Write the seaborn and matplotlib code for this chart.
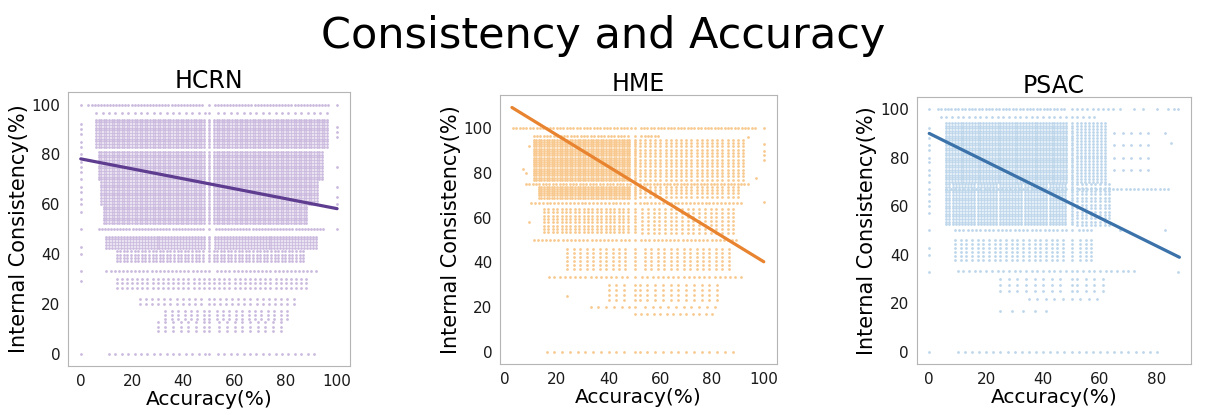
import numpy as np
import pandas as pd
import seaborn as sns
import matplotlib
matplotlib.use("Agg")
import matplotlib.pyplot as plt

# ---- data ----
models = ["HCRN", "HME", "PSAC"]

# point blocks: consistency from/to/step, accuracy from/to/step (rows have from == to)
hcrn_y_from = [100, 96.7, 94, 81, 69, 59, 50, 47, 41, 33.3, 30, 22, 17, 12.5, 0]
hcrn_y_to = [100, 96.7, 82, 70, 60, 52, 50, 42, 37, 33.3, 25, 20, 14, 9, 0]
hcrn_y_step = [1, 1, 1.1, 1.1, 1.1, 1.1, 1, 1.15, 1.3, 1, 1.8, 2, 1.5, 1.7, 1]
hcrn_x_from = [3, 6, 6, 7, 8, 9, 7, 10, 14, 10, 14, 23, 33, 30, 11]
hcrn_x_to = [97, 96, 96, 94, 92, 88, 95, 92, 88, 92, 88, 84, 82, 80, 91]
hcrn_x_step = [1.2, 2.5, 1.0, 1.0, 1.0, 1.0, 1.2, 1.15, 1.4, 1.6, 2.0, 2.4, 2.5, 3.0, 2.5]
hcrn_edge_x = [0] * 22 + [100] * 9
hcrn_edge_y = [100, 92, 90, 88, 85, 83, 80, 77, 75, 73, 70, 67, 65, 62, 60, 57, 50, 43, 40, 33, 29, 0,
               100, 91, 89, 87, 75, 67, 63, 60, 50]
hcrn_fit_x = [0, 100]
hcrn_fit_y = [78.2, 58.2]

hme_y_from = [100, 96.7, 95, 95, 75, 74, 74, 66.7, 64, 64, 50, 46, 33.3, 30, 20, 16.7, 0]
hme_y_to = [100, 96.7, 77, 77, 75, 69, 69, 66.7, 53, 53, 50, 37, 33.3, 23, 20, 16.7, 0]
hme_y_step = [1, 1, 1.0, 1.5, 1, 1.0, 1.5, 1, 1.5, 1.8, 1, 1.8, 1, 2.3, 1, 1, 1]
hme_x_from = [3, 11, 11, 52, 8, 13, 52, 10, 15, 53, 11, 24, 17, 40, 33, 50, 16]
hme_x_to = [97, 60, 50, 92, 95, 50, 90, 92, 50, 90, 90, 88, 92, 84, 82, 82, 89]
hme_x_step = [1.3, 1.3, 1.0, 2.0, 1.3, 1.0, 2.0, 1.5, 1.7, 2.2, 1.6, 2.5, 2.0, 3.0, 3.0, 2.5, 3.0]
hme_edge_x = [100, 100, 100, 100, 100, 100, 9, 7, 8, 9, 24, 94, 97]
hme_edge_y = [100, 93, 90, 88, 86, 67, 92, 82, 80, 58, 25, 96, 78]
hme_fit_x = [2.6, 100]
hme_fit_y = [109.4, 40.3]

psac_y_from = [100, 100, 96.7, 94, 94, 69, 69, 90, 67, 50, 46, 33.3, 30, 22, 16.7, 0]
psac_y_to = [100, 100, 96.7, 70, 70, 52, 52, 75, 67, 50, 37, 33.3, 25, 22, 16.7, 0]
psac_y_step = [1, 1, 1, 1.0, 1.2, 1.1, 1.4, 5, 1, 1, 1.6, 1, 2.5, 1, 1, 1]
psac_x_from = [3, 52, 4, 6, 52, 6, 52, 65, 6, 9, 9, 10, 25, 35, 25, 10]
psac_x_to = [50, 65, 58, 50, 62, 50, 64, 78, 84, 57, 57, 72, 62, 60, 43, 80]
psac_x_step = [1.2, 1.8, 2, 1.0, 1.4, 1.1, 1.6, 3, 1.5, 1.5, 2.0, 2.0, 3.0, 3.0, 4.0, 2.5]
psac_edge_x = [0] * 21 + [67, 72, 75, 80, 84, 86, 87.5, 87.5, 83, 85, 83, 67]
psac_edge_y = [100, 92, 90, 88, 85, 83, 80, 78, 75, 73, 70, 67, 65, 62, 60, 57, 50, 43, 40, 33, 0,
               100, 100, 100, 100, 100, 100, 100, 33, 50, 86, 90, 50]
psac_fit_x = [0, 87.9]
psac_fit_y = [89.9, 39.0]

point_colors = ["#cbbadf", "#f8c98f", "#bdd6ea"]
line_colors = ["#5e3c8f", "#e8832f", "#3b72aa"]
gap = (48.6, 51.6)  # empty strip around 50% accuracy, except the 50 column itself


def expand(y_from, y_to, y_step, x_from, x_to, x_step, edge_x, edge_y):
    acc, cons = [], []
    for y0, y1, ys, x0, x1, xs in zip(y_from, y_to, y_step, x_from, x_to, x_step):
        yy = [y0] if y0 == y1 else np.arange(y0, y1 - 1e-9, -ys)
        xx = np.arange(x0, x1 + 1e-9, xs)
        xx = [v for v in xx if not (gap[0] < v < gap[1])]
        if x0 <= 50 <= x1:
            xx.append(50)
        for y in yy:
            for x in xx:
                acc.append(x)
                cons.append(y)
    acc += list(edge_x)
    cons += list(edge_y)
    return pd.DataFrame({"Accuracy": acc, "Consistency": cons})


data = [
    expand(hcrn_y_from, hcrn_y_to, hcrn_y_step, hcrn_x_from, hcrn_x_to, hcrn_x_step, hcrn_edge_x, hcrn_edge_y),
    expand(hme_y_from, hme_y_to, hme_y_step, hme_x_from, hme_x_to, hme_x_step, hme_edge_x, hme_edge_y),
    expand(psac_y_from, psac_y_to, psac_y_step, psac_x_from, psac_x_to, psac_x_step, psac_edge_x, psac_edge_y),
]
fits = [(hcrn_fit_x, hcrn_fit_y), (hme_fit_x, hme_fit_y), (psac_fit_x, psac_fit_y)]

sns.set_style("white", {"axes.edgecolor": "#b5b5b5", "text.color": "black", "axes.labelcolor": "black"})
plt.rcParams["font.family"] = ["DejaVu Sans"]

fig = plt.figure(figsize=(12.07, 4.15), dpi=100)
boxes = [[0.0563, 0.118, 0.2336, 0.660],
         [0.4143, 0.1229, 0.2292, 0.6482],
         [0.7595, 0.1222, 0.2273, 0.6448]]
xlims = [(-5, 105), (-2, 105), (-4.4, 92)]
ylims = [(-5, 105), (-5.5, 115), (-5, 105)]
xticks = [range(0, 101, 20), range(0, 101, 20), range(0, 81, 20)]

for i, name in enumerate(models):
    ax = fig.add_axes(boxes[i])
    sns.scatterplot(data=data[i], x="Accuracy", y="Consistency", ax=ax,
                    color=point_colors[i], s=4, linewidth=0)
    sns.lineplot(x=fits[i][0], y=fits[i][1], ax=ax, color=line_colors[i], lw=2.3, sort=False)
    ax.set_xlim(*xlims[i])
    ax.set_ylim(*ylims[i])
    ax.set_xticks(list(xticks[i]))
    ax.set_yticks(list(range(0, 101, 20)))
    ax.tick_params(length=3, color="#b5b5b5", labelsize=11, labelcolor="#1a1a1a", pad=2.5)
    ax.set_title(name, fontsize=17, pad=3, color="black")
    ax.set_xlabel("Accuracy(%)", fontsize=14.5, labelpad=1, color="black")
    ax.set_ylabel("Internal Consistency(%)", fontsize=15, labelpad=2, color="black")

fig.suptitle("Consistency and Accuracy", fontsize=31, y=0.965, color="black")
fig.savefig("out.png", dpi=100)
